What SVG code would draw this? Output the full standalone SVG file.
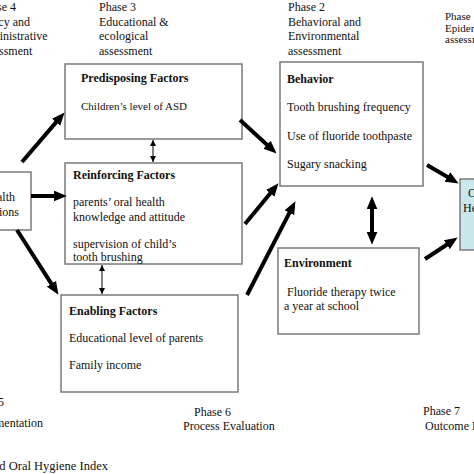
<svg xmlns="http://www.w3.org/2000/svg" width="474" height="474" viewBox="0 0 474 474">
<defs>
<style>
text{font-family:"Liberation Serif","Times New Roman",serif;font-size:12px;fill:#111}
.b{font-weight:bold}
.box{fill:#fff;stroke:#7a7a7a;stroke-width:1.5}
.th{stroke:#000;stroke-width:4;fill:none;marker-end:url(#ah)}
.tn{stroke:#000;stroke-width:1;fill:none;marker-end:url(#sh);marker-start:url(#sh)}
</style>
<marker id="ah" viewBox="0 0 12 10" refX="2" refY="5" markerWidth="13" markerHeight="11" markerUnits="userSpaceOnUse" orient="auto-start-reverse"><path d="M0,0 L12,5 L0,10 z" fill="#000"/></marker>
<marker id="sh" viewBox="0 0 6 6" refX="6" refY="3" markerWidth="6" markerHeight="6" markerUnits="userSpaceOnUse" orient="auto-start-reverse"><path d="M0,0 L6,3 L0,6 z" fill="#000"/></marker>
</defs>
<rect width="474" height="474" fill="#fff"/>

<g id="phase-labels">
<text x="-21" y="11">Phase 4</text>
<text x="-21" y="26">Policy and</text>
<text x="-21" y="40">administrative</text>
<text x="-21" y="55">assessment</text>
<text x="99" y="11">Phase 3</text>
<text x="99" y="26">Educational &amp;</text>
<text x="99" y="40">ecological</text>
<text x="99" y="55">assessment</text>
<text x="288" y="11">Phase 2</text>
<text x="288" y="26">Behavioral and</text>
<text x="288" y="40">Environmental</text>
<text x="288" y="55">assessment</text>
<text x="445" y="20" style="font-size:11px">Phase 1</text>
<text x="445" y="32" style="font-size:11px">Epidemiological</text>
<text x="445" y="43" style="font-size:11px">assessment</text>
<text x="-33" y="406">Phase 5</text>
<text x="-33" y="427">Implementation</text>
<text x="194" y="416">Phase 6</text>
<text x="183" y="430">Process Evaluation</text>
<text x="423" y="415">Phase 7</text>
<text x="425" y="430">Outcome Evaluation</text>
<text x="108" y="470" text-anchor="end" style="font-size:12.5px">Simplified Oral Hygiene Index</text>
</g>

<g id="node-interventions">
<rect class="box" x="-60" y="172" width="91" height="58"/>
<text x="15" y="201" text-anchor="end">Oral Health</text>
<text x="19" y="216" text-anchor="end">Interventions</text>
</g>

<g id="node-predisposing">
<rect class="box" x="65" y="64" width="177" height="75"/>
<text class="b" x="81" y="82">Predisposing Factors</text>
<text x="81" y="110" style="font-size:11px">Children’s level of ASD</text>
</g>

<g id="node-reinforcing">
<rect class="box" x="65" y="163" width="177" height="101"/>
<text class="b" x="73" y="179">Reinforcing Factors</text>
<text x="73" y="206">parents’ oral health</text>
<text x="73" y="221">knowledge and attitude</text>
<text x="73" y="248">supervision of child’s</text>
<text x="73" y="261">tooth brushing</text>
</g>

<g id="node-enabling">
<rect class="box" x="61" y="295" width="177" height="97"/>
<text class="b" x="69" y="315">Enabling Factors</text>
<text x="69" y="342">Educational level of parents</text>
<text x="69" y="369">Family income</text>
</g>

<g id="node-behavior">
<rect class="box" x="280" y="62" width="143" height="124"/>
<text class="b" x="287" y="83">Behavior</text>
<text x="287" y="111">Tooth brushing frequency</text>
<text x="287" y="140">Use of fluoride toothpaste</text>
<text x="287" y="168">Sugary snacking</text>
</g>

<g id="node-environment">
<rect class="box" x="278" y="248" width="141" height="86"/>
<text class="b" x="284" y="267">Environment</text>
<text x="287" y="296">Fluoride therapy twice</text>
<text x="284" y="310">a year at school</text>
</g>

<g id="node-outcome">
<rect x="460" y="179" width="60" height="71" fill="#c9e8ec" stroke="#7a7a7a" stroke-width="1.5"/>
<text x="468" y="197">Oral</text>
<text x="463" y="212">Health</text>
</g>

<g id="connectors">
<line class="th" x1="22" y1="162" x2="57.5" y2="120.6"/>
<line class="th" x1="31" y1="196" x2="56" y2="196"/>
<line class="th" x1="17" y1="230" x2="52.6" y2="285.6"/>
<line class="tn" x1="153" y1="140" x2="153" y2="162"/>
<line class="tn" x1="102" y1="265" x2="102" y2="294"/>
<line class="th" x1="240" y1="120" x2="268.6" y2="146.2"/>
<line class="th" x1="245" y1="224" x2="271.6" y2="191.7"/>
<line class="th" x1="247" y1="295" x2="290.4" y2="210.9"/>
<line class="th" x1="372" y1="207" x2="372" y2="234" style="marker-start:url(#ah)"/>
<line class="th" x1="427" y1="165" x2="449.3" y2="178"/>
<line class="th" x1="425" y1="259" x2="448.6" y2="243.5"/>
</g>
</svg>
